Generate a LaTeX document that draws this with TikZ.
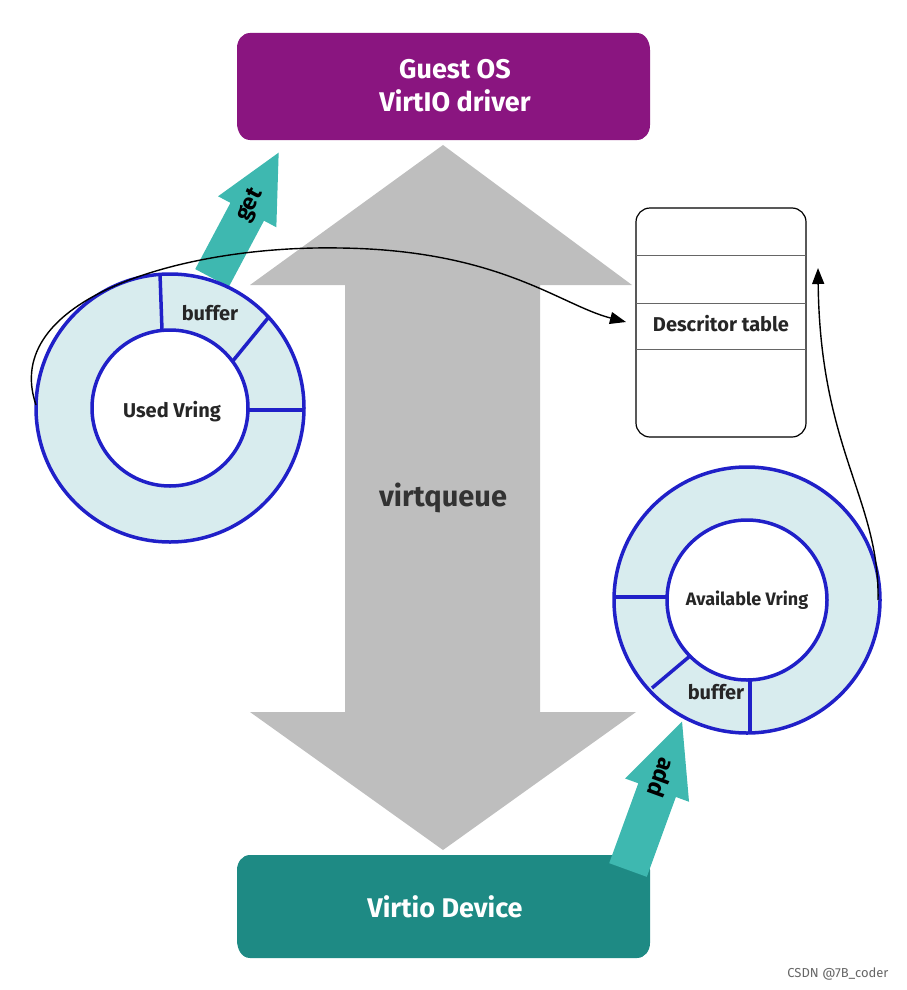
\documentclass[tikz,border=0pt]{standalone}
\usepackage{fontspec}
\setmainfont{Fira Sans}
\usetikzlibrary{arrows.meta}
\definecolor{purp}{HTML}{8A1580}
\definecolor{tealdk}{HTML}{1E8A84}
\definecolor{tealar}{HTML}{3EB8B0}
\definecolor{grayar}{HTML}{BEBEBE}
\definecolor{ringfill}{HTML}{D8ECEE}
\definecolor{ringblue}{HTML}{2020C8}
\tikzset{
  ring/.style={draw=ringblue,line width=3.5pt},
  lbl/.style={font=\bfseries\fontsize{20}{24}\selectfont,text=black!85},
  box/.style={font=\bfseries\fontsize{27}{33}\selectfont,text=white,align=center},
  conn/.style={black,line width=1.4pt,-{Triangle[length=16pt,width=12pt]}},
}
\begin{document}
\begin{tikzpicture}[x=1pt,y=-1pt]
\useasboundingbox (0,0) rectangle (906,990);
% gray double arrow
\fill[grayar] (443,145) -- (632,285) -- (540,285) -- (540,712) -- (636,712) -- (443,850) -- (250,712) -- (345,712) -- (345,285) -- (250,285) -- cycle;
\node[font=\bfseries\fontsize{29}{34}\selectfont,text=black!80] (vq) at (443,498) {virtqueue};
% top box
\fill[purp] (250,33) -- (637,33) to[out=0,in=90] (650,50) -- (650,125) to[out=270,in=0] (637,140) -- (250,140) to[out=180,in=270] (237,123) -- (237,48) to[out=90,in=180] (250,33) -- cycle;
\node[box] (guest) at (455,86) {Guest OS\\VirtIO driver};
% bottom box
\fill[tealdk] (250,855) -- (637,855) to[out=0,in=90] (650,870) -- (650,943) to[out=270,in=0] (637,958) -- (250,958) to[out=180,in=270] (237,940) -- (237,870) to[out=90,in=180] (250,855) -- cycle;
\node[box] (dev) at (445,907) {Virtio Device};
% get arrow
\begin{scope}[shift={(212,278)},rotate=62]
\fill[tealar] (0,-19) -- (75,-19) -- (75,-33) -- (142,0) -- (75,33) -- (75,19) -- (0,19) -- cycle;
\node[font=\bfseries\fontsize{23}{26}\selectfont,rotate=62] (get) at (82,0) {get};
\end{scope}
% add arrow
\begin{scope}[shift={(628,870)},rotate=70]
\fill[tealar] (0,-20) -- (85,-20) -- (85,-34) -- (158,0) -- (85,34) -- (85,20) -- (0,20) -- cycle;
\node[font=\bfseries\fontsize{23}{26}\selectfont,rotate=-110] (add) at (98,0) {add};
\end{scope}
% used vring
\fill[ringfill,even odd rule] (170,408) circle (134) (170,408) circle (78);
\draw[ring] (170,408) circle (134);
\draw[ring] (170,408) circle (78);
\draw[ring] (160,274) -- (162,330);
\draw[ring] (232,362) -- (268,318);
\draw[ring] (248,410) -- (304,410);
\node[lbl] (ubuf) at (210,313) {buffer};
\node[lbl] (used) at (172,412) {Used Vring};
% available vring
\fill[ringfill,even odd rule] (747,600) circle (133) (747,600) circle (80);
\draw[ring] (747,600) circle (133);
\draw[ring] (747,600) circle (80);
\draw[ring] (614,597) -- (667,597);
\draw[ring] (690,656) -- (652,688);
\draw[ring] (750,680) -- (750,732);
\node[lbl] (abuf) at (716,692) {buffer};
\node[lbl,font=\bfseries\fontsize{18}{22}\selectfont] (avail) at (747,600) {Available Vring};
% descriptor table
\draw[black,line width=1.2pt,rounded corners=14pt,fill=white] (636,208) rectangle (806,437);
\draw[black!60,line width=1pt] (636,255) -- (806,255) (636,303) -- (806,303) (636,349) -- (806,349);
\node[lbl] (desc) at (721,324) {Descritor table};
\coordinate (s1) at (36,405);
\coordinate (e1) at (626,322);
\coordinate (s2) at (878,600);
\coordinate (e2) at (818,268);
\draw[conn] (s1) .. controls (0,300) and (180,245) .. (340,248) .. controls (500,250) and (560,305) .. (e1);
\draw[conn] (s2) .. controls (880,500) and (820,450) .. (e2);
\node[font=\fontsize{13}{15}\selectfont,text=black!60,anchor=east] (csdn) at (892,974) {CSDN @7B\_coder};
\end{tikzpicture}
\end{document}
